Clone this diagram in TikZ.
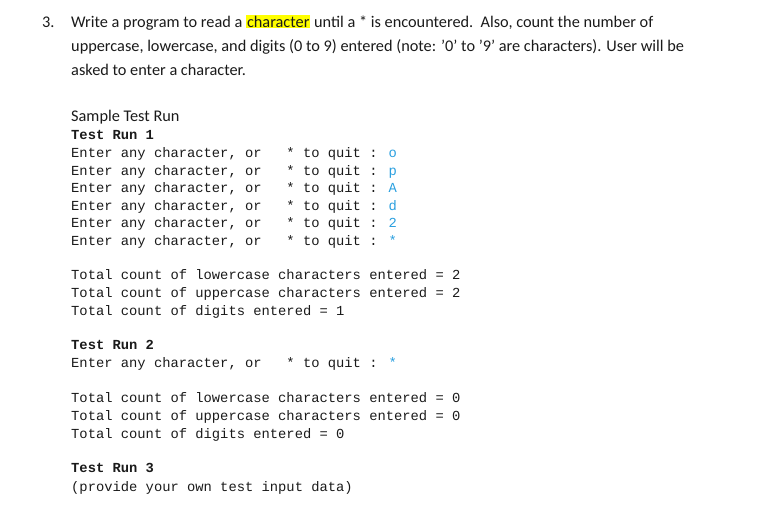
\documentclass[tikz,border=0pt]{standalone}
\usepackage{fontspec}
\setmainfont{Carlito}
\newfontfamily\cour{Liberation Mono}
\definecolor{inblue}{HTML}{2A9FDF}
\definecolor{hl}{HTML}{FFFF00}
\definecolor{txt}{HTML}{1A1A1A}
\tikzset{
  para/.style={anchor=base west,inner sep=0pt,font=\fontsize{16.3}{19}\selectfont,text=txt},
  mono/.style={anchor=base west,inner sep=0pt,font=\cour\fontsize{13.8}{16}\selectfont,text=txt},
  monob/.style={mono,font=\cour\bfseries\fontsize{13.8}{16}\selectfont},
}
\newcommand{\inp}[1]{\textcolor{inblue}{#1}}
\newcommand{\prompt}{Enter any character, or\ \ \ * to quit : }
\begin{document}
\begin{tikzpicture}[x=1pt,y=-1pt]
\useasboundingbox (0,0) rectangle (768,528);
\node[para] (n) at (42,27) {3.};
\node[para] (l1) at (71,27) {Write a program to read a {\fboxsep=1pt\colorbox{hl}{character}} until a * is encountered.\ \ Also, count the number of};
\node[para] (l2) at (71,51) {uppercase, lowercase, and digits (0 to 9) entered (note: '0' to '9' are characters). User will be};
\node[para] (l3) at (71,75) {asked to enter a character.};
\node[para] (s) at (71,121) {Sample Test Run};
\node[monob] (t1) at (71,139) {Test Run 1};
\node[mono] (a1) at (71,157) {\prompt\inp{o}};
\node[mono] (a2) at (71,175) {\prompt\inp{p}};
\node[mono] (a3) at (71,192) {\prompt\inp{A}};
\node[mono] (a4) at (71,210) {\prompt\inp{d}};
\node[mono] (a5) at (71,227) {\prompt\inp{2}};
\node[mono] (a6) at (71,245) {\prompt\inp{*}};
\node[mono] (r1) at (71,279) {Total count of lowercase characters entered = 2};
\node[mono] (r2) at (71,297) {Total count of uppercase characters entered = 2};
\node[mono] (r3) at (71,315) {Total count of digits entered = 1};
\node[monob] (t2) at (71,349) {Test Run 2};
\node[mono] (b1) at (71,367) {\prompt\inp{*}};
\node[mono] (q1) at (71,402) {Total count of lowercase characters entered = 0};
\node[mono] (q2) at (71,420) {Total count of uppercase characters entered = 0};
\node[mono] (q3) at (71,438) {Total count of digits entered = 0};
\node[monob] (t3) at (71,472) {Test Run 3};
\node[mono] (p) at (71,491) {(provide your own test input data)};
\end{tikzpicture}
\end{document}
